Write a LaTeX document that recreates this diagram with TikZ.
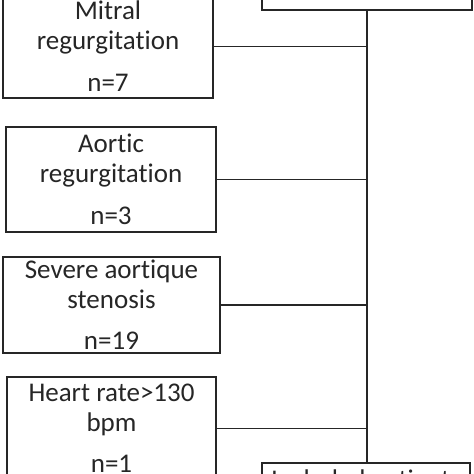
\documentclass[tikz,border=0pt]{standalone}
\usepackage{fontspec}
\setmainfont{Carlito}[Ligatures=NoCommon]
\begin{document}
\begin{tikzpicture}[x=1pt, y=-1pt,
  crit/.style={rectangle, draw=black!85, line width=1.6pt, align=center, inner sep=0pt, text=black!85, font=\fontsize{27}{30}\selectfont},
  link/.style={draw=black!85, line width=1.6pt}]
\useasboundingbox (0, 0) rectangle (474, 474);
\node (top) at (367, -15) [crit, minimum width=210pt, minimum height=50pt] {};
\node (mitral) at (108, 46.5) [crit, minimum width=210pt, minimum height=103pt] {Mitral\\regurgitation\\[12pt]n=7};
\node (aortic) at (111, 179.5) [crit, minimum width=210pt, minimum height=105pt] {Aortic\\regurgitation\\[12pt]n=3};
\node (stenosis) at (111.5, 305) [crit, minimum width=217pt, minimum height=96pt] {Severe aortique\\stenosis\\[11pt]n=19};
\node (heart) at (111.5, 428.5) [crit, minimum width=209pt, minimum height=103pt] {Heart rate>130\\bpm\\[11pt]n=1};
\node (included) at (366, 462) [crit, anchor=north, minimum width=208pt, inner ysep=7pt] {Included patients};
\draw [link, line width=2.4pt] (top.south) -- (top.south |- included.north);
\draw [link] (mitral.east) edge (mitral.east -| top.south) (aortic.east) edge (aortic.east -| top.south) (stenosis.east) edge (stenosis.east -| top.south) (heart.east) edge (heart.east -| top.south);
\end{tikzpicture}
\end{document}
